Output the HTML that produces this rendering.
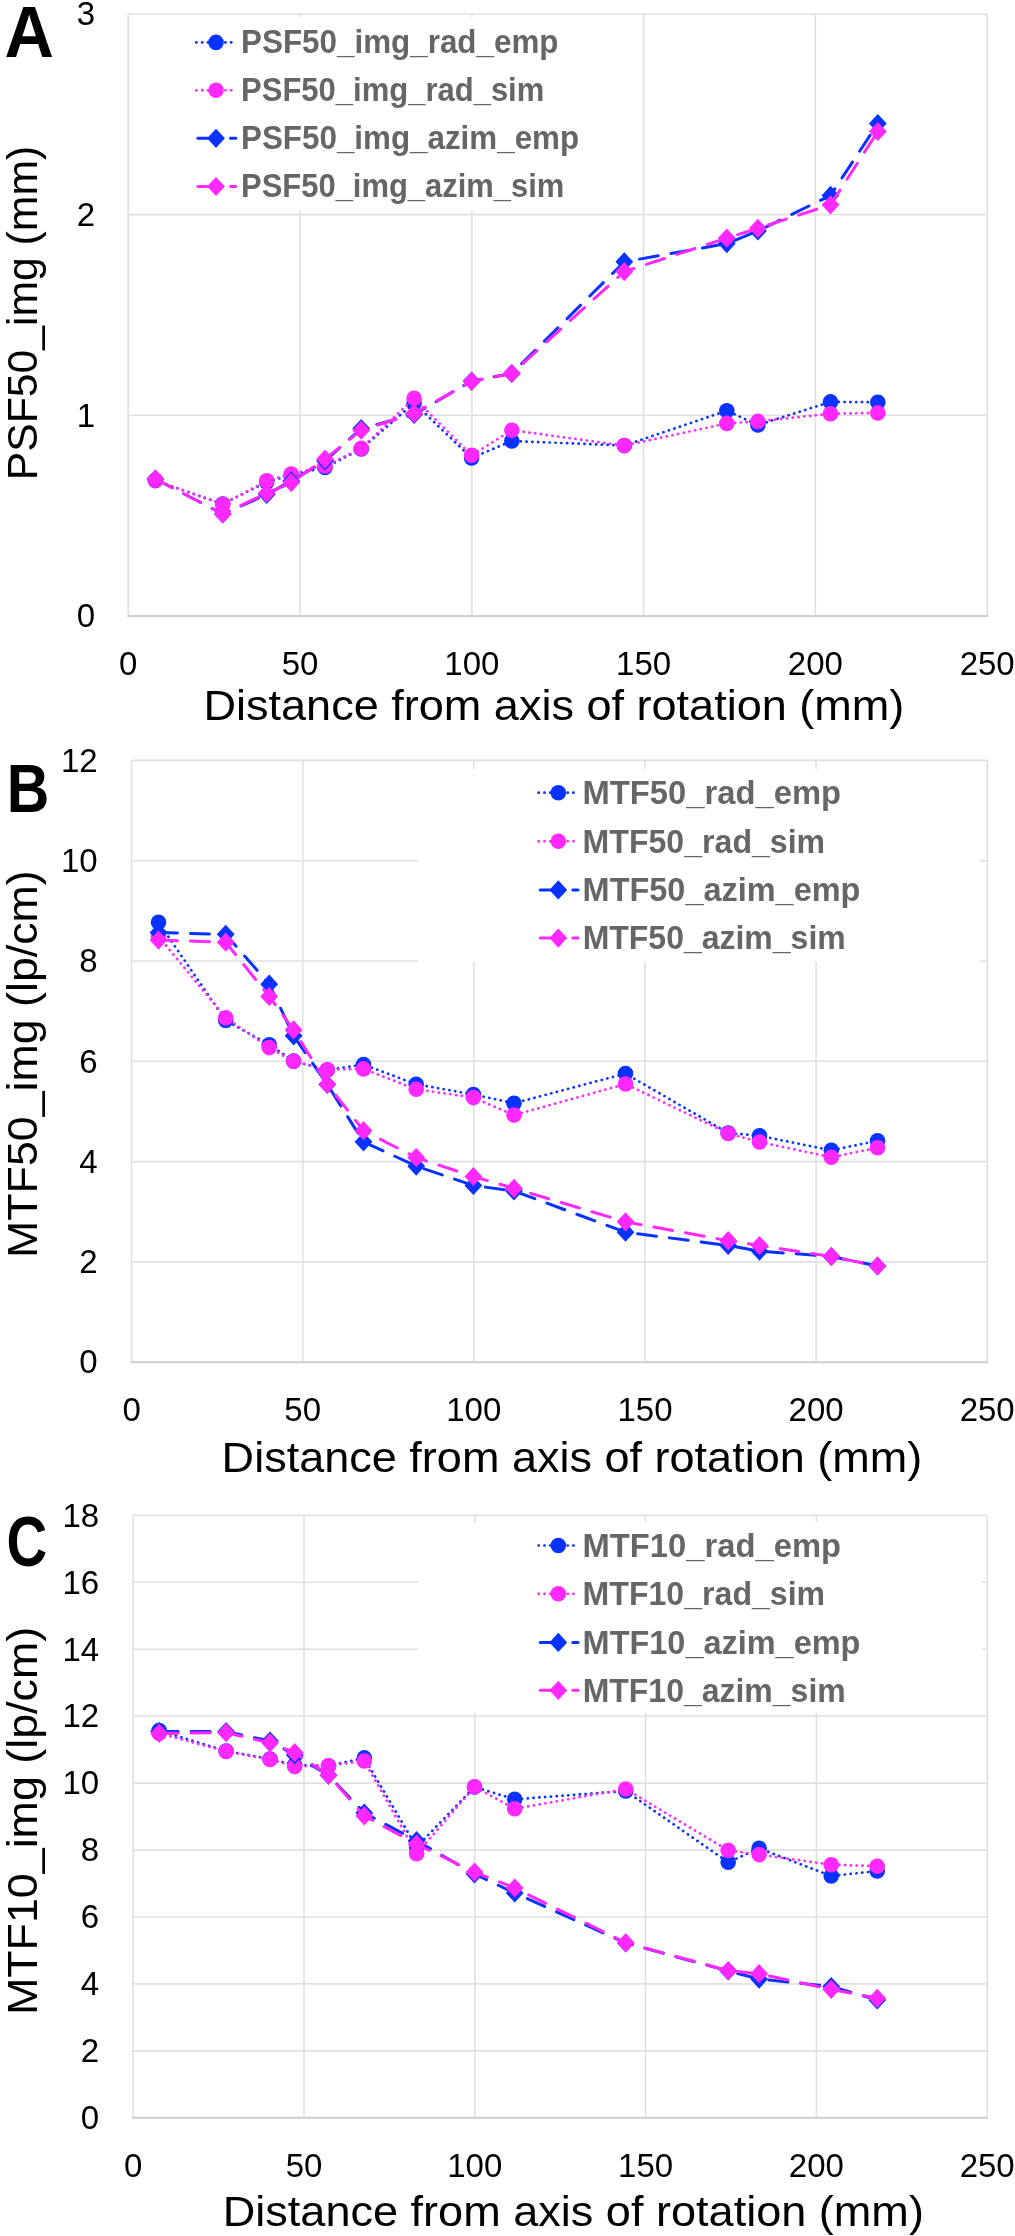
<!DOCTYPE html>
<html><head><meta charset="utf-8"><title>Charts</title>
<style>
html,body{margin:0;padding:0;background:#fff;}
body{width:1015px;height:2236px;overflow:hidden;}
svg{display:block;font-family:"Liberation Sans", sans-serif;will-change:transform;}
</style></head><body>
<svg width="1015" height="2236" viewBox="0 0 1015 2236" fill="#000">
<g stroke="#e0e0e0" stroke-width="1.6" fill="none"><line x1="128.3" x2="987.2" y1="615.9" y2="615.9"/><line x1="128.3" x2="987.2" y1="415.3" y2="415.3"/><line x1="128.3" x2="987.2" y1="214.6" y2="214.6"/><line x1="128.3" x2="987.2" y1="14.0" y2="14.0"/><line x1="128.3" x2="128.3" y1="14.0" y2="615.9"/><line x1="300.1" x2="300.1" y1="14.0" y2="615.9"/><line x1="471.9" x2="471.9" y1="14.0" y2="615.9"/><line x1="643.6" x2="643.6" y1="14.0" y2="615.9"/><line x1="815.4" x2="815.4" y1="14.0" y2="615.9"/><line x1="987.2" x2="987.2" y1="14.0" y2="615.9"/></g>
<line x1="127.3" x2="988.2" y1="615.9" y2="615.9" stroke="#cfcfcf" stroke-width="2"/>
<polyline points="155.4,480.5 222.7,504.0 266.7,482.0 291.2,475.0 325.0,467.5 361.2,449.0 414.1,403.0 471.6,458.0 511.8,441.0 624.3,445.5 726.8,410.7 757.9,425.0 830.5,401.9 877.8,402.2" fill="none" stroke="#0732ff" stroke-width="2.7" stroke-dasharray="0.2 5.6" stroke-linecap="round"/>
<circle cx="155.4" cy="480.5" r="7.8" fill="#0732ff"/><circle cx="222.7" cy="504.0" r="7.8" fill="#0732ff"/><circle cx="266.7" cy="482.0" r="7.8" fill="#0732ff"/><circle cx="291.2" cy="475.0" r="7.8" fill="#0732ff"/><circle cx="325.0" cy="467.5" r="7.8" fill="#0732ff"/><circle cx="361.2" cy="449.0" r="7.8" fill="#0732ff"/><circle cx="414.1" cy="403.0" r="7.8" fill="#0732ff"/><circle cx="471.6" cy="458.0" r="7.8" fill="#0732ff"/><circle cx="511.8" cy="441.0" r="7.8" fill="#0732ff"/><circle cx="624.3" cy="445.5" r="7.8" fill="#0732ff"/><circle cx="726.8" cy="410.7" r="7.8" fill="#0732ff"/><circle cx="757.9" cy="425.0" r="7.8" fill="#0732ff"/><circle cx="830.5" cy="401.9" r="7.8" fill="#0732ff"/><circle cx="877.8" cy="402.2" r="7.8" fill="#0732ff"/>
<polyline points="155.4,480.5 222.7,504.4 266.7,480.8 291.2,474.1 325.0,466.0 361.2,448.4 414.1,398.2 471.6,455.3 511.8,430.2 624.3,445.6 726.8,423.4 757.9,421.4 830.5,413.7 877.8,412.9" fill="none" stroke="#ff28ff" stroke-width="2.7" stroke-dasharray="0.2 5.6" stroke-linecap="round"/>
<circle cx="155.4" cy="480.5" r="7.8" fill="#ff28ff"/><circle cx="222.7" cy="504.4" r="7.8" fill="#ff28ff"/><circle cx="266.7" cy="480.8" r="7.8" fill="#ff28ff"/><circle cx="291.2" cy="474.1" r="7.8" fill="#ff28ff"/><circle cx="325.0" cy="466.0" r="7.8" fill="#ff28ff"/><circle cx="361.2" cy="448.4" r="7.8" fill="#ff28ff"/><circle cx="414.1" cy="398.2" r="7.8" fill="#ff28ff"/><circle cx="471.6" cy="455.3" r="7.8" fill="#ff28ff"/><circle cx="511.8" cy="430.2" r="7.8" fill="#ff28ff"/><circle cx="624.3" cy="445.6" r="7.8" fill="#ff28ff"/><circle cx="726.8" cy="423.4" r="7.8" fill="#ff28ff"/><circle cx="757.9" cy="421.4" r="7.8" fill="#ff28ff"/><circle cx="830.5" cy="413.7" r="7.8" fill="#ff28ff"/><circle cx="877.8" cy="412.9" r="7.8" fill="#ff28ff"/>
<polyline points="155.4,479.0 222.7,514.0 266.7,494.5 291.2,481.0 325.0,461.0 361.2,428.5 414.1,414.5 471.6,381.0 511.8,373.5 624.3,261.8 726.8,243.6 757.9,231.0 830.5,195.4 877.8,123.6" fill="none" stroke="#0732ff" stroke-width="3" stroke-dasharray="19 13" stroke-linecap="round"/>
<path d="M155.4 469.4L164.3 479.0L155.4 488.6L146.5 479.0Z" fill="#0732ff"/><path d="M222.7 504.4L231.6 514.0L222.7 523.6L213.8 514.0Z" fill="#0732ff"/><path d="M266.7 484.9L275.6 494.5L266.7 504.1L257.8 494.5Z" fill="#0732ff"/><path d="M291.2 471.4L300.1 481.0L291.2 490.6L282.3 481.0Z" fill="#0732ff"/><path d="M325.0 451.4L333.9 461.0L325.0 470.6L316.1 461.0Z" fill="#0732ff"/><path d="M361.2 418.9L370.1 428.5L361.2 438.1L352.3 428.5Z" fill="#0732ff"/><path d="M414.1 404.9L423.0 414.5L414.1 424.1L405.2 414.5Z" fill="#0732ff"/><path d="M471.6 371.4L480.5 381.0L471.6 390.6L462.7 381.0Z" fill="#0732ff"/><path d="M511.8 363.9L520.7 373.5L511.8 383.1L502.9 373.5Z" fill="#0732ff"/><path d="M624.3 252.2L633.2 261.8L624.3 271.4L615.4 261.8Z" fill="#0732ff"/><path d="M726.8 234.0L735.7 243.6L726.8 253.2L717.9 243.6Z" fill="#0732ff"/><path d="M757.9 221.4L766.8 231.0L757.9 240.6L749.0 231.0Z" fill="#0732ff"/><path d="M830.5 185.8L839.4 195.4L830.5 205.0L821.6 195.4Z" fill="#0732ff"/><path d="M877.8 114.0L886.7 123.6L877.8 133.2L868.9 123.6Z" fill="#0732ff"/>
<polyline points="155.4,479.0 222.7,514.0 266.7,493.2 291.2,482.6 325.0,459.1 361.2,430.2 414.1,413.4 471.6,381.4 511.8,373.5 624.3,271.6 726.8,238.1 757.9,228.3 830.5,204.8 877.8,131.5" fill="none" stroke="#ff28ff" stroke-width="3" stroke-dasharray="19 13" stroke-linecap="round"/>
<path d="M155.4 469.4L164.3 479.0L155.4 488.6L146.5 479.0Z" fill="#ff28ff"/><path d="M222.7 504.4L231.6 514.0L222.7 523.6L213.8 514.0Z" fill="#ff28ff"/><path d="M266.7 483.6L275.6 493.2L266.7 502.8L257.8 493.2Z" fill="#ff28ff"/><path d="M291.2 473.0L300.1 482.6L291.2 492.2L282.3 482.6Z" fill="#ff28ff"/><path d="M325.0 449.5L333.9 459.1L325.0 468.7L316.1 459.1Z" fill="#ff28ff"/><path d="M361.2 420.6L370.1 430.2L361.2 439.8L352.3 430.2Z" fill="#ff28ff"/><path d="M414.1 403.8L423.0 413.4L414.1 423.0L405.2 413.4Z" fill="#ff28ff"/><path d="M471.6 371.8L480.5 381.4L471.6 391.0L462.7 381.4Z" fill="#ff28ff"/><path d="M511.8 363.9L520.7 373.5L511.8 383.1L502.9 373.5Z" fill="#ff28ff"/><path d="M624.3 262.0L633.2 271.6L624.3 281.2L615.4 271.6Z" fill="#ff28ff"/><path d="M726.8 228.5L735.7 238.1L726.8 247.7L717.9 238.1Z" fill="#ff28ff"/><path d="M757.9 218.7L766.8 228.3L757.9 237.9L749.0 228.3Z" fill="#ff28ff"/><path d="M830.5 195.2L839.4 204.8L830.5 214.4L821.6 204.8Z" fill="#ff28ff"/><path d="M877.8 121.9L886.7 131.5L877.8 141.1L868.9 131.5Z" fill="#ff28ff"/>
<rect x="180" y="17" width="420" height="193.5" fill="#fff"/>
<line x1="196.3" x2="234.0" y1="42.4" y2="42.4" stroke="#0732ff" stroke-width="2.7" stroke-dasharray="0.2 5.6" stroke-linecap="round"/>
<circle cx="216.0" cy="42.4" r="7.8" fill="#0732ff"/>
<text x="241.06" y="53.30" font-size="32.4" font-weight="bold" fill="#666" textLength="317.44" lengthAdjust="spacingAndGlyphs">PSF50_img_rad_emp</text>
<line x1="196.3" x2="234.0" y1="90.3" y2="90.3" stroke="#ff28ff" stroke-width="2.7" stroke-dasharray="0.2 5.6" stroke-linecap="round"/>
<circle cx="216.0" cy="90.3" r="7.8" fill="#ff28ff"/>
<text x="241.09" y="101.20" font-size="32.4" font-weight="bold" fill="#666" textLength="303.21" lengthAdjust="spacingAndGlyphs">PSF50_img_rad_sim</text>
<line x1="197.9" x2="208.0" y1="138.3" y2="138.3" stroke="#0732ff" stroke-width="3" stroke-linecap="round"/>
<line x1="230.5" x2="235.7" y1="138.3" y2="138.3" stroke="#0732ff" stroke-width="3" stroke-linecap="round"/>
<path d="M216.0 128.7L224.9 138.3L216.0 147.9L207.1 138.3Z" fill="#0732ff"/>
<text x="241.06" y="149.20" font-size="32.4" font-weight="bold" fill="#666" textLength="338.06" lengthAdjust="spacingAndGlyphs">PSF50_img_azim_emp</text>
<line x1="197.9" x2="208.0" y1="186.5" y2="186.5" stroke="#ff28ff" stroke-width="3" stroke-linecap="round"/>
<line x1="230.5" x2="235.7" y1="186.5" y2="186.5" stroke="#ff28ff" stroke-width="3" stroke-linecap="round"/>
<path d="M216.0 176.9L224.9 186.5L216.0 196.1L207.1 186.5Z" fill="#ff28ff"/>
<text x="241.09" y="197.40" font-size="32.4" font-weight="bold" fill="#666" textLength="323.23" lengthAdjust="spacingAndGlyphs">PSF50_img_azim_sim</text>
<text x="95.0" y="627.1" font-size="33" text-anchor="end">0</text>
<text x="95.0" y="426.5" font-size="33" text-anchor="end">1</text>
<text x="95.0" y="225.8" font-size="33" text-anchor="end">2</text>
<text x="95.0" y="25.2" font-size="33" text-anchor="end">3</text>
<text x="128.3" y="674.6" font-size="33" text-anchor="middle">0</text>
<text x="300.1" y="674.6" font-size="33" text-anchor="middle">50</text>
<text x="471.9" y="674.6" font-size="33" text-anchor="middle">100</text>
<text x="643.6" y="674.6" font-size="33" text-anchor="middle">150</text>
<text x="815.4" y="674.6" font-size="33" text-anchor="middle">200</text>
<text x="987.2" y="674.6" font-size="33" text-anchor="middle">250</text>
<text x="203.51" y="720.30" font-size="43" textLength="700.80" lengthAdjust="spacingAndGlyphs">Distance from axis of rotation (mm)</text>
<text transform="translate(36.60,480.27) rotate(-90)" x="0" y="0" font-size="43" textLength="334.44" lengthAdjust="spacingAndGlyphs">PSF50_img (mm)</text>
<text transform="matrix(0.6833,0,0,0.7228,4.55,57.12)" x="0" y="0" font-size="100" font-weight="bold">A</text>
<g stroke="#e0e0e0" stroke-width="1.6" fill="none"><line x1="131.6" x2="987.2" y1="1362.2" y2="1362.2"/><line x1="131.6" x2="987.2" y1="1261.9" y2="1261.9"/><line x1="131.6" x2="987.2" y1="1161.6" y2="1161.6"/><line x1="131.6" x2="987.2" y1="1061.3" y2="1061.3"/><line x1="131.6" x2="987.2" y1="961.0" y2="961.0"/><line x1="131.6" x2="987.2" y1="860.7" y2="860.7"/><line x1="131.6" x2="987.2" y1="760.4" y2="760.4"/><line x1="131.6" x2="131.6" y1="760.4" y2="1362.2"/><line x1="302.7" x2="302.7" y1="760.4" y2="1362.2"/><line x1="473.8" x2="473.8" y1="760.4" y2="1362.2"/><line x1="645.0" x2="645.0" y1="760.4" y2="1362.2"/><line x1="816.1" x2="816.1" y1="760.4" y2="1362.2"/><line x1="987.2" x2="987.2" y1="760.4" y2="1362.2"/></g>
<line x1="130.6" x2="988.2" y1="1362.2" y2="1362.2" stroke="#cfcfcf" stroke-width="2"/>
<polyline points="158.5,922.3 225.7,1020.5 269.2,1044.7 293.6,1061.0 327.3,1070.0 363.5,1064.5 416.2,1084.3 473.4,1094.5 514.0,1103.2 625.5,1073.6 728.2,1133.0 759.5,1135.8 831.3,1150.3 877.5,1140.8" fill="none" stroke="#0732ff" stroke-width="2.7" stroke-dasharray="0.2 5.6" stroke-linecap="round"/>
<circle cx="158.5" cy="922.3" r="7.8" fill="#0732ff"/><circle cx="225.7" cy="1020.5" r="7.8" fill="#0732ff"/><circle cx="269.2" cy="1044.7" r="7.8" fill="#0732ff"/><circle cx="293.6" cy="1061.0" r="7.8" fill="#0732ff"/><circle cx="327.3" cy="1070.0" r="7.8" fill="#0732ff"/><circle cx="363.5" cy="1064.5" r="7.8" fill="#0732ff"/><circle cx="416.2" cy="1084.3" r="7.8" fill="#0732ff"/><circle cx="473.4" cy="1094.5" r="7.8" fill="#0732ff"/><circle cx="514.0" cy="1103.2" r="7.8" fill="#0732ff"/><circle cx="625.5" cy="1073.6" r="7.8" fill="#0732ff"/><circle cx="728.2" cy="1133.0" r="7.8" fill="#0732ff"/><circle cx="759.5" cy="1135.8" r="7.8" fill="#0732ff"/><circle cx="831.3" cy="1150.3" r="7.8" fill="#0732ff"/><circle cx="877.5" cy="1140.8" r="7.8" fill="#0732ff"/>
<polyline points="158.5,936.5 225.7,1017.7 269.2,1047.6 293.6,1061.4 327.3,1069.7 363.5,1068.9 416.2,1089.3 473.4,1097.6 514.0,1115.1 625.5,1084.0 728.2,1133.5 759.5,1142.0 831.3,1157.2 877.5,1147.7" fill="none" stroke="#ff28ff" stroke-width="2.7" stroke-dasharray="0.2 5.6" stroke-linecap="round"/>
<circle cx="158.5" cy="936.5" r="7.8" fill="#ff28ff"/><circle cx="225.7" cy="1017.7" r="7.8" fill="#ff28ff"/><circle cx="269.2" cy="1047.6" r="7.8" fill="#ff28ff"/><circle cx="293.6" cy="1061.4" r="7.8" fill="#ff28ff"/><circle cx="327.3" cy="1069.7" r="7.8" fill="#ff28ff"/><circle cx="363.5" cy="1068.9" r="7.8" fill="#ff28ff"/><circle cx="416.2" cy="1089.3" r="7.8" fill="#ff28ff"/><circle cx="473.4" cy="1097.6" r="7.8" fill="#ff28ff"/><circle cx="514.0" cy="1115.1" r="7.8" fill="#ff28ff"/><circle cx="625.5" cy="1084.0" r="7.8" fill="#ff28ff"/><circle cx="728.2" cy="1133.5" r="7.8" fill="#ff28ff"/><circle cx="759.5" cy="1142.0" r="7.8" fill="#ff28ff"/><circle cx="831.3" cy="1157.2" r="7.8" fill="#ff28ff"/><circle cx="877.5" cy="1147.7" r="7.8" fill="#ff28ff"/>
<polyline points="158.5,932.6 225.7,934.3 269.2,984.2 293.6,1035.8 327.3,1084.5 363.5,1141.8 416.2,1166.1 473.4,1185.5 514.0,1191.0 625.5,1232.2 728.2,1245.5 759.5,1251.1 831.3,1256.5 877.5,1266.0" fill="none" stroke="#0732ff" stroke-width="3" stroke-dasharray="19 13" stroke-linecap="round"/>
<path d="M158.5 923.0L167.4 932.6L158.5 942.2L149.6 932.6Z" fill="#0732ff"/><path d="M225.7 924.7L234.6 934.3L225.7 943.9L216.8 934.3Z" fill="#0732ff"/><path d="M269.2 974.6L278.1 984.2L269.2 993.8L260.3 984.2Z" fill="#0732ff"/><path d="M293.6 1026.2L302.5 1035.8L293.6 1045.4L284.7 1035.8Z" fill="#0732ff"/><path d="M327.3 1074.9L336.2 1084.5L327.3 1094.1L318.4 1084.5Z" fill="#0732ff"/><path d="M363.5 1132.2L372.4 1141.8L363.5 1151.4L354.6 1141.8Z" fill="#0732ff"/><path d="M416.2 1156.5L425.1 1166.1L416.2 1175.7L407.3 1166.1Z" fill="#0732ff"/><path d="M473.4 1175.9L482.3 1185.5L473.4 1195.1L464.5 1185.5Z" fill="#0732ff"/><path d="M514.0 1181.4L522.9 1191.0L514.0 1200.6L505.1 1191.0Z" fill="#0732ff"/><path d="M625.5 1222.6L634.4 1232.2L625.5 1241.8L616.6 1232.2Z" fill="#0732ff"/><path d="M728.2 1235.9L737.1 1245.5L728.2 1255.1L719.3 1245.5Z" fill="#0732ff"/><path d="M759.5 1241.5L768.4 1251.1L759.5 1260.7L750.6 1251.1Z" fill="#0732ff"/><path d="M831.3 1246.9L840.2 1256.5L831.3 1266.1L822.4 1256.5Z" fill="#0732ff"/><path d="M877.5 1256.4L886.4 1266.0L877.5 1275.6L868.6 1266.0Z" fill="#0732ff"/>
<polyline points="158.5,940.1 225.7,942.2 269.2,996.4 293.6,1029.9 327.3,1084.3 363.5,1130.7 416.2,1157.6 473.4,1176.5 514.0,1188.4 625.5,1221.8 728.2,1240.7 759.5,1245.5 831.3,1256.5 877.5,1266.0" fill="none" stroke="#ff28ff" stroke-width="3" stroke-dasharray="19 13" stroke-linecap="round"/>
<path d="M158.5 930.5L167.4 940.1L158.5 949.7L149.6 940.1Z" fill="#ff28ff"/><path d="M225.7 932.6L234.6 942.2L225.7 951.8L216.8 942.2Z" fill="#ff28ff"/><path d="M269.2 986.8L278.1 996.4L269.2 1006.0L260.3 996.4Z" fill="#ff28ff"/><path d="M293.6 1020.3L302.5 1029.9L293.6 1039.5L284.7 1029.9Z" fill="#ff28ff"/><path d="M327.3 1074.7L336.2 1084.3L327.3 1093.9L318.4 1084.3Z" fill="#ff28ff"/><path d="M363.5 1121.1L372.4 1130.7L363.5 1140.3L354.6 1130.7Z" fill="#ff28ff"/><path d="M416.2 1148.0L425.1 1157.6L416.2 1167.2L407.3 1157.6Z" fill="#ff28ff"/><path d="M473.4 1166.9L482.3 1176.5L473.4 1186.1L464.5 1176.5Z" fill="#ff28ff"/><path d="M514.0 1178.8L522.9 1188.4L514.0 1198.0L505.1 1188.4Z" fill="#ff28ff"/><path d="M625.5 1212.2L634.4 1221.8L625.5 1231.4L616.6 1221.8Z" fill="#ff28ff"/><path d="M728.2 1231.1L737.1 1240.7L728.2 1250.3L719.3 1240.7Z" fill="#ff28ff"/><path d="M759.5 1235.9L768.4 1245.5L759.5 1255.1L750.6 1245.5Z" fill="#ff28ff"/><path d="M831.3 1246.9L840.2 1256.5L831.3 1266.1L822.4 1256.5Z" fill="#ff28ff"/><path d="M877.5 1256.4L886.4 1266.0L877.5 1275.6L868.6 1266.0Z" fill="#ff28ff"/>
<rect x="418" y="769" width="562" height="193" fill="#fff"/>
<line x1="538.6" x2="576.3" y1="792.7" y2="792.7" stroke="#0732ff" stroke-width="2.7" stroke-dasharray="0.2 5.6" stroke-linecap="round"/>
<circle cx="558.3" cy="792.7" r="7.8" fill="#0732ff"/>
<text x="582.58" y="804.00" font-size="32.4" font-weight="bold" fill="#666" textLength="258.47" lengthAdjust="spacingAndGlyphs">MTF50_rad_emp</text>
<line x1="538.6" x2="576.3" y1="841.3" y2="841.3" stroke="#ff28ff" stroke-width="2.7" stroke-dasharray="0.2 5.6" stroke-linecap="round"/>
<circle cx="558.3" cy="841.3" r="7.8" fill="#ff28ff"/>
<text x="582.62" y="852.60" font-size="32.4" font-weight="bold" fill="#666" textLength="242.49" lengthAdjust="spacingAndGlyphs">MTF50_rad_sim</text>
<line x1="540.2" x2="550.3" y1="889.9" y2="889.9" stroke="#0732ff" stroke-width="3" stroke-linecap="round"/>
<line x1="572.8" x2="578.0" y1="889.9" y2="889.9" stroke="#0732ff" stroke-width="3" stroke-linecap="round"/>
<path d="M558.3 880.3L567.2 889.9L558.3 899.5L549.4 889.9Z" fill="#0732ff"/>
<text x="582.60" y="901.20" font-size="32.4" font-weight="bold" fill="#666" textLength="277.83" lengthAdjust="spacingAndGlyphs">MTF50_azim_emp</text>
<line x1="540.2" x2="550.3" y1="938.1" y2="938.1" stroke="#ff28ff" stroke-width="3" stroke-linecap="round"/>
<line x1="572.8" x2="578.0" y1="938.1" y2="938.1" stroke="#ff28ff" stroke-width="3" stroke-linecap="round"/>
<path d="M558.3 928.5L567.2 938.1L558.3 947.7L549.4 938.1Z" fill="#ff28ff"/>
<text x="582.63" y="949.40" font-size="32.4" font-weight="bold" fill="#666" textLength="263.09" lengthAdjust="spacingAndGlyphs">MTF50_azim_sim</text>
<text x="97.6" y="1373.4" font-size="33" text-anchor="end">0</text>
<text x="97.6" y="1273.1" font-size="33" text-anchor="end">2</text>
<text x="97.6" y="1172.8" font-size="33" text-anchor="end">4</text>
<text x="97.6" y="1072.5" font-size="33" text-anchor="end">6</text>
<text x="97.6" y="972.2" font-size="33" text-anchor="end">8</text>
<text x="97.6" y="871.9" font-size="33" text-anchor="end">10</text>
<text x="97.6" y="771.6" font-size="33" text-anchor="end">12</text>
<text x="131.6" y="1420.6" font-size="33" text-anchor="middle">0</text>
<text x="302.7" y="1420.6" font-size="33" text-anchor="middle">50</text>
<text x="473.8" y="1420.6" font-size="33" text-anchor="middle">100</text>
<text x="645.0" y="1420.6" font-size="33" text-anchor="middle">150</text>
<text x="816.1" y="1420.6" font-size="33" text-anchor="middle">200</text>
<text x="987.2" y="1420.6" font-size="33" text-anchor="middle">250</text>
<text x="221.61" y="1472.20" font-size="43" textLength="700.70" lengthAdjust="spacingAndGlyphs">Distance from axis of rotation (mm)</text>
<text transform="translate(36.70,1257.96) rotate(-90)" x="0" y="0" font-size="43" textLength="387.67" lengthAdjust="spacingAndGlyphs">MTF50_img (lp/cm)</text>
<text transform="matrix(0.5902,0,0,0.6942,6.87,812.40)" x="0" y="0" font-size="100" font-weight="bold">B</text>
<g stroke="#e0e0e0" stroke-width="1.6" fill="none"><line x1="133.2" x2="987.2" y1="2117.8" y2="2117.8"/><line x1="133.2" x2="987.2" y1="2050.9" y2="2050.9"/><line x1="133.2" x2="987.2" y1="1983.9" y2="1983.9"/><line x1="133.2" x2="987.2" y1="1917.0" y2="1917.0"/><line x1="133.2" x2="987.2" y1="1850.1" y2="1850.1"/><line x1="133.2" x2="987.2" y1="1783.1" y2="1783.1"/><line x1="133.2" x2="987.2" y1="1716.2" y2="1716.2"/><line x1="133.2" x2="987.2" y1="1649.3" y2="1649.3"/><line x1="133.2" x2="987.2" y1="1582.3" y2="1582.3"/><line x1="133.2" x2="987.2" y1="1515.4" y2="1515.4"/><line x1="133.2" x2="133.2" y1="1515.4" y2="2117.8"/><line x1="304.0" x2="304.0" y1="1515.4" y2="2117.8"/><line x1="474.8" x2="474.8" y1="1515.4" y2="2117.8"/><line x1="645.6" x2="645.6" y1="1515.4" y2="2117.8"/><line x1="816.4" x2="816.4" y1="1515.4" y2="2117.8"/><line x1="987.2" x2="987.2" y1="1515.4" y2="2117.8"/></g>
<line x1="132.2" x2="988.2" y1="2117.8" y2="2117.8" stroke="#cfcfcf" stroke-width="2"/>
<polyline points="159.1,1730.5 226.1,1751.0 270.0,1759.0 294.7,1765.0 328.5,1766.0 364.3,1757.9 416.6,1847.0 474.5,1787.0 514.7,1799.3 625.7,1791.0 728.2,1862.3 759.1,1848.3 831.2,1876.0 877.2,1871.0" fill="none" stroke="#0732ff" stroke-width="2.7" stroke-dasharray="0.2 5.6" stroke-linecap="round"/>
<circle cx="159.1" cy="1730.5" r="7.8" fill="#0732ff"/><circle cx="226.1" cy="1751.0" r="7.8" fill="#0732ff"/><circle cx="270.0" cy="1759.0" r="7.8" fill="#0732ff"/><circle cx="294.7" cy="1765.0" r="7.8" fill="#0732ff"/><circle cx="328.5" cy="1766.0" r="7.8" fill="#0732ff"/><circle cx="364.3" cy="1757.9" r="7.8" fill="#0732ff"/><circle cx="416.6" cy="1847.0" r="7.8" fill="#0732ff"/><circle cx="474.5" cy="1787.0" r="7.8" fill="#0732ff"/><circle cx="514.7" cy="1799.3" r="7.8" fill="#0732ff"/><circle cx="625.7" cy="1791.0" r="7.8" fill="#0732ff"/><circle cx="728.2" cy="1862.3" r="7.8" fill="#0732ff"/><circle cx="759.1" cy="1848.3" r="7.8" fill="#0732ff"/><circle cx="831.2" cy="1876.0" r="7.8" fill="#0732ff"/><circle cx="877.2" cy="1871.0" r="7.8" fill="#0732ff"/>
<polyline points="159.1,1733.2 226.1,1751.4 270.0,1759.5 294.7,1766.4 328.5,1765.7 364.3,1761.0 416.6,1853.7 474.5,1786.8 514.7,1808.8 625.7,1789.0 728.2,1850.4 759.1,1854.6 831.2,1864.7 877.2,1866.2" fill="none" stroke="#ff28ff" stroke-width="2.7" stroke-dasharray="0.2 5.6" stroke-linecap="round"/>
<circle cx="159.1" cy="1733.2" r="7.8" fill="#ff28ff"/><circle cx="226.1" cy="1751.4" r="7.8" fill="#ff28ff"/><circle cx="270.0" cy="1759.5" r="7.8" fill="#ff28ff"/><circle cx="294.7" cy="1766.4" r="7.8" fill="#ff28ff"/><circle cx="328.5" cy="1765.7" r="7.8" fill="#ff28ff"/><circle cx="364.3" cy="1761.0" r="7.8" fill="#ff28ff"/><circle cx="416.6" cy="1853.7" r="7.8" fill="#ff28ff"/><circle cx="474.5" cy="1786.8" r="7.8" fill="#ff28ff"/><circle cx="514.7" cy="1808.8" r="7.8" fill="#ff28ff"/><circle cx="625.7" cy="1789.0" r="7.8" fill="#ff28ff"/><circle cx="728.2" cy="1850.4" r="7.8" fill="#ff28ff"/><circle cx="759.1" cy="1854.6" r="7.8" fill="#ff28ff"/><circle cx="831.2" cy="1864.7" r="7.8" fill="#ff28ff"/><circle cx="877.2" cy="1866.2" r="7.8" fill="#ff28ff"/>
<polyline points="159.1,1731.5 226.1,1731.6 270.0,1741.0 294.7,1755.0 328.5,1775.2 364.3,1813.0 416.6,1840.7 474.5,1874.0 514.7,1893.0 625.7,1943.0 728.2,1971.0 759.1,1979.1 831.2,1986.5 877.2,2000.0" fill="none" stroke="#0732ff" stroke-width="3" stroke-dasharray="19 13" stroke-linecap="round"/>
<path d="M159.1 1721.9L168.0 1731.5L159.1 1741.1L150.2 1731.5Z" fill="#0732ff"/><path d="M226.1 1722.0L235.0 1731.6L226.1 1741.2L217.2 1731.6Z" fill="#0732ff"/><path d="M270.0 1731.4L278.9 1741.0L270.0 1750.6L261.1 1741.0Z" fill="#0732ff"/><path d="M294.7 1745.4L303.6 1755.0L294.7 1764.6L285.8 1755.0Z" fill="#0732ff"/><path d="M328.5 1765.6L337.4 1775.2L328.5 1784.8L319.6 1775.2Z" fill="#0732ff"/><path d="M364.3 1803.4L373.2 1813.0L364.3 1822.6L355.4 1813.0Z" fill="#0732ff"/><path d="M416.6 1831.1L425.5 1840.7L416.6 1850.3L407.7 1840.7Z" fill="#0732ff"/><path d="M474.5 1864.4L483.4 1874.0L474.5 1883.6L465.6 1874.0Z" fill="#0732ff"/><path d="M514.7 1883.4L523.6 1893.0L514.7 1902.6L505.8 1893.0Z" fill="#0732ff"/><path d="M625.7 1933.4L634.6 1943.0L625.7 1952.6L616.8 1943.0Z" fill="#0732ff"/><path d="M728.2 1961.4L737.1 1971.0L728.2 1980.6L719.3 1971.0Z" fill="#0732ff"/><path d="M759.1 1969.5L768.0 1979.1L759.1 1988.7L750.2 1979.1Z" fill="#0732ff"/><path d="M831.2 1976.9L840.1 1986.5L831.2 1996.1L822.3 1986.5Z" fill="#0732ff"/><path d="M877.2 1990.4L886.1 2000.0L877.2 2009.6L868.3 2000.0Z" fill="#0732ff"/>
<polyline points="159.1,1733.3 226.1,1732.7 270.0,1742.8 294.7,1752.6 328.5,1775.2 364.3,1815.9 416.6,1844.2 474.5,1872.1 514.7,1888.0 625.7,1942.8 728.2,1970.6 759.1,1973.7 831.2,1989.3 877.2,1998.3" fill="none" stroke="#ff28ff" stroke-width="3" stroke-dasharray="19 13" stroke-linecap="round"/>
<path d="M159.1 1723.7L168.0 1733.3L159.1 1742.9L150.2 1733.3Z" fill="#ff28ff"/><path d="M226.1 1723.1L235.0 1732.7L226.1 1742.3L217.2 1732.7Z" fill="#ff28ff"/><path d="M270.0 1733.2L278.9 1742.8L270.0 1752.4L261.1 1742.8Z" fill="#ff28ff"/><path d="M294.7 1743.0L303.6 1752.6L294.7 1762.2L285.8 1752.6Z" fill="#ff28ff"/><path d="M328.5 1765.6L337.4 1775.2L328.5 1784.8L319.6 1775.2Z" fill="#ff28ff"/><path d="M364.3 1806.3L373.2 1815.9L364.3 1825.5L355.4 1815.9Z" fill="#ff28ff"/><path d="M416.6 1834.6L425.5 1844.2L416.6 1853.8L407.7 1844.2Z" fill="#ff28ff"/><path d="M474.5 1862.5L483.4 1872.1L474.5 1881.7L465.6 1872.1Z" fill="#ff28ff"/><path d="M514.7 1878.4L523.6 1888.0L514.7 1897.6L505.8 1888.0Z" fill="#ff28ff"/><path d="M625.7 1933.2L634.6 1942.8L625.7 1952.4L616.8 1942.8Z" fill="#ff28ff"/><path d="M728.2 1961.0L737.1 1970.6L728.2 1980.2L719.3 1970.6Z" fill="#ff28ff"/><path d="M759.1 1964.1L768.0 1973.7L759.1 1983.3L750.2 1973.7Z" fill="#ff28ff"/><path d="M831.2 1979.7L840.1 1989.3L831.2 1998.9L822.3 1989.3Z" fill="#ff28ff"/><path d="M877.2 1988.7L886.1 1998.3L877.2 2007.9L868.3 1998.3Z" fill="#ff28ff"/>
<rect x="418" y="1522" width="564" height="191" fill="#fff"/>
<line x1="538.6" x2="576.3" y1="1545.5" y2="1545.5" stroke="#0732ff" stroke-width="2.7" stroke-dasharray="0.2 5.6" stroke-linecap="round"/>
<circle cx="558.3" cy="1545.5" r="7.8" fill="#0732ff"/>
<text x="582.58" y="1556.80" font-size="32.4" font-weight="bold" fill="#666" textLength="258.47" lengthAdjust="spacingAndGlyphs">MTF10_rad_emp</text>
<line x1="538.6" x2="576.3" y1="1593.8" y2="1593.8" stroke="#ff28ff" stroke-width="2.7" stroke-dasharray="0.2 5.6" stroke-linecap="round"/>
<circle cx="558.3" cy="1593.8" r="7.8" fill="#ff28ff"/>
<text x="582.62" y="1605.10" font-size="32.4" font-weight="bold" fill="#666" textLength="242.49" lengthAdjust="spacingAndGlyphs">MTF10_rad_sim</text>
<line x1="540.2" x2="550.3" y1="1642.4" y2="1642.4" stroke="#0732ff" stroke-width="3" stroke-linecap="round"/>
<line x1="572.8" x2="578.0" y1="1642.4" y2="1642.4" stroke="#0732ff" stroke-width="3" stroke-linecap="round"/>
<path d="M558.3 1632.8L567.2 1642.4L558.3 1652.0L549.4 1642.4Z" fill="#0732ff"/>
<text x="582.60" y="1653.70" font-size="32.4" font-weight="bold" fill="#666" textLength="277.83" lengthAdjust="spacingAndGlyphs">MTF10_azim_emp</text>
<line x1="540.2" x2="550.3" y1="1690.3" y2="1690.3" stroke="#ff28ff" stroke-width="3" stroke-linecap="round"/>
<line x1="572.8" x2="578.0" y1="1690.3" y2="1690.3" stroke="#ff28ff" stroke-width="3" stroke-linecap="round"/>
<path d="M558.3 1680.7L567.2 1690.3L558.3 1699.9L549.4 1690.3Z" fill="#ff28ff"/>
<text x="582.63" y="1701.60" font-size="32.4" font-weight="bold" fill="#666" textLength="263.09" lengthAdjust="spacingAndGlyphs">MTF10_azim_sim</text>
<text x="99.2" y="2129.0" font-size="33" text-anchor="end">0</text>
<text x="99.2" y="2062.1" font-size="33" text-anchor="end">2</text>
<text x="99.2" y="1995.1" font-size="33" text-anchor="end">4</text>
<text x="99.2" y="1928.2" font-size="33" text-anchor="end">6</text>
<text x="99.2" y="1861.3" font-size="33" text-anchor="end">8</text>
<text x="99.2" y="1794.3" font-size="33" text-anchor="end">10</text>
<text x="99.2" y="1727.4" font-size="33" text-anchor="end">12</text>
<text x="99.2" y="1660.5" font-size="33" text-anchor="end">14</text>
<text x="99.2" y="1593.5" font-size="33" text-anchor="end">16</text>
<text x="99.2" y="1526.6" font-size="33" text-anchor="end">18</text>
<text x="133.2" y="2176.6" font-size="33" text-anchor="middle">0</text>
<text x="304.0" y="2176.6" font-size="33" text-anchor="middle">50</text>
<text x="474.8" y="2176.6" font-size="33" text-anchor="middle">100</text>
<text x="645.6" y="2176.6" font-size="33" text-anchor="middle">150</text>
<text x="816.4" y="2176.6" font-size="33" text-anchor="middle">200</text>
<text x="987.2" y="2176.6" font-size="33" text-anchor="middle">250</text>
<text x="222.71" y="2225.80" font-size="43" textLength="701.20" lengthAdjust="spacingAndGlyphs">Distance from axis of rotation (mm)</text>
<text transform="translate(36.70,2015.07) rotate(-90)" x="0" y="0" font-size="43" textLength="388.18" lengthAdjust="spacingAndGlyphs">MTF10_img (lp/cm)</text>
<text transform="matrix(0.5631,0,0,0.7021,6.55,1566.40)" x="0" y="0" font-size="100" font-weight="bold">C</text>
</svg>
</body></html>
